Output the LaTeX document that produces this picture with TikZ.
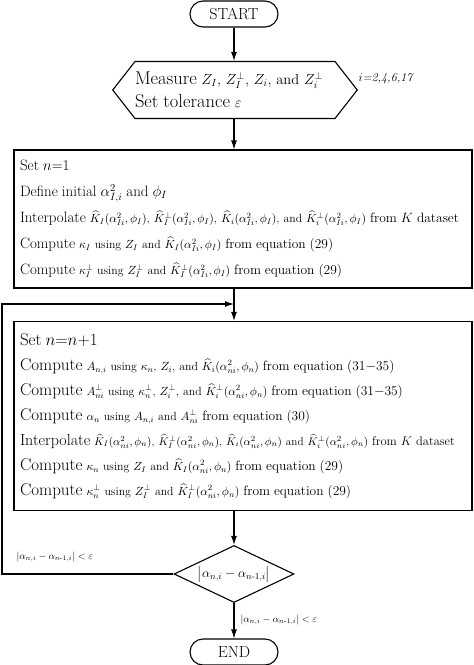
\RequirePackage{fix-cm}
\documentclass[tikz,border=0pt]{standalone}
\usepackage{amsmath}
\usepackage{amssymb}
\usepackage{tikz}
\usetikzlibrary{shapes.misc,shapes.geometric,shapes.symbols,arrows.meta}

\newcommand{\lead}[2][15]{{\fontsize{#1}{26}\selectfont #2}}
\newcommand{\midtext}[1]{{\fontsize{13.5}{26}\selectfont #1}}

\begin{document}
\begin{tikzpicture}
  [x=1pt,y=-1pt,line width=1.1pt,>={Latex[length=9pt,width=6pt]},
   every node/.style={inner sep=0pt},
   term/.style={draw,rounded rectangle,minimum width=88pt,minimum height=26pt,font=\fontsize{16}{16}\selectfont},
   hexa/.style={draw,signal,signal to=west and east,signal pointer angle=104,minimum width=244pt,minimum height=57pt,text width=200pt,align=left,font=\fontsize{14.5}{23}\selectfont},
   box/.style={draw,rectangle,minimum width=458pt,text width=446pt,align=left,font=\fontsize{11.8}{26}\selectfont},
   test/.style={draw,diamond,aspect=2.1,minimum width=120pt,minimum height=57pt,font=\fontsize{13}{13}\selectfont},
   note/.style={anchor=west,font=\fontsize{10}{10}\selectfont}]
  \useasboundingbox (0,0) rectangle (474,665);

  \node[term] (start) at (234,14) {START};
  \node[hexa] (measure) at (235,90) {\lead[18.5]{Measure} $Z_I$, $Z^{\perp}_I$, $Z_i$, and $Z^{\perp}_i$\\
    \lead[18.5]{Set tolerance} $\varepsilon$};
  \node[note,font=\fontsize{12}{12}\selectfont\itshape] (range) at (358,79) {$i$=2,4,6,17};
  \node[box,minimum height=138pt] (init) at (243,219) {%
    \lead{Set $n$=1}\\
    \lead{Define initial $\alpha^2_{I,i}$ and $\phi_I$}\\
    \lead{Interpolate} $\widehat{K}_I(\alpha^2_{Ii},\phi_I)$, $\widehat{K}^{\perp}_I(\alpha^2_{Ii},\phi_I)$, $\widehat{K}_i(\alpha^2_{Ii},\phi_I)$, and $\widehat{K}^{\perp}_i(\alpha^2_{Ii},\phi_I)$ \midtext{from $K$ dataset}\\
    \lead{Compute} $\kappa_I$ using $Z_I$ and $\widehat{K}_I(\alpha^2_{Ii},\phi_I)$ \midtext{from equation (29)}\\
    \lead{Compute} $\kappa^{\perp}_I$ using $Z^{\perp}_I$ and $\widehat{K}^{\perp}_I(\alpha^2_{Ii},\phi_I)$ \midtext{from equation (29)}};
  \node[box,minimum height=189pt,font=\fontsize{11.8}{25}\selectfont] (iter) at (243,416) {%
    \lead[17]{Set $n$=$n$+1}\\
    \lead[17]{Compute} $A_{n,i}$ using $\kappa_n$, $Z_i$, and $\widehat{K}_i(\alpha^2_{ni},\phi_n)$ \midtext{from equation (31$-$35)}\\
    \lead[17]{Compute} $A^{\perp}_{ni}$ using $\kappa^{\perp}_n$, $Z^{\perp}_i$, and $\widehat{K}^{\perp}_i(\alpha^2_{ni},\phi_n)$ \midtext{from equation (31$-$35)}\\
    \lead[17]{Compute} $\alpha_n$ using $A_{n,i}$ and $A^{\perp}_{ni}$ \midtext{from equation (30)}\\
    {\fontsize{11.2}{25}\selectfont\lead[16]{Interpolate} $\widehat{K}_I(\alpha^2_{ni},\phi_n)$, $\widehat{K}^{\perp}_I(\alpha^2_{ni},\phi_n)$, $\widehat{K}_i(\alpha^2_{ni},\phi_n)$ and $\widehat{K}^{\perp}_i(\alpha^2_{ni},\phi_n)$ {\fontsize{12.5}{25}\selectfont from $K$ dataset}}\\
    \lead[17]{Compute} $\kappa_n$ using $Z_I$ and $\widehat{K}_I(\alpha^2_{ni},\phi_n)$ \midtext{from equation (29)}\\
    \lead[17]{Compute} $\kappa^{\perp}_n$ using $Z^{\perp}_I$ and $\widehat{K}^{\perp}_I(\alpha^2_{ni},\phi_n)$ \midtext{from equation (29)}};
  \node[test] (check) at (234,574) {$\bigl|\alpha_{n,i}-\alpha_{n\text{-}1,i}\bigr|$};
  \node[term] (end) at (234,652) {END};
  \node[note] (loopnote) at (16,557) {$|\alpha_{n,i}-\alpha_{n\text{-}1,i}|<\varepsilon$};
  \node[note] (exitnote) at (240,620) {$|\alpha_{n,i}-\alpha_{n\text{-}1,i}|<\varepsilon$};

  \coordinate (merge) at (234,304);
  \coordinate (down) at (2,574);
  \coordinate (up) at (2,304);

  \foreach \from/\to in {start/measure,measure/init,init/iter,iter/check,check/end}
    \draw[->] (\from.south -| start) -- (\to.north -| start);
  \draw[->] (check.west) -- (down) -- (up) -- (merge);
\end{tikzpicture}
\end{document}
